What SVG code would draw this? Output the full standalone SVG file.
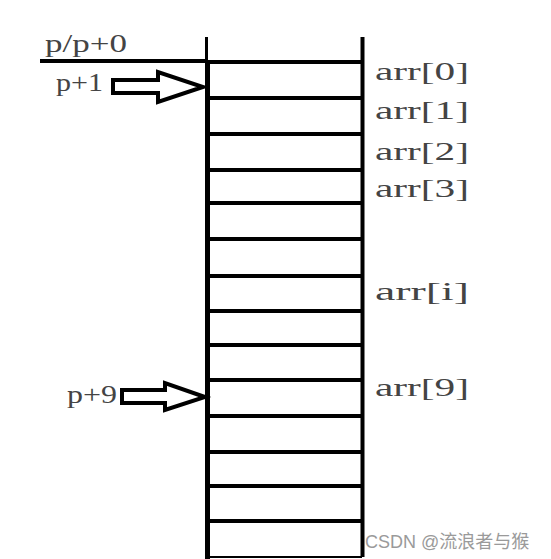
<svg xmlns="http://www.w3.org/2000/svg" width="551" height="559" viewBox="0 0 551 559">
<style>
.lbl{font-family:"Liberation Serif","DejaVu Serif",serif;font-size:25px;fill:#444}
.arr{fill:#fff;stroke:#000;stroke-width:4;stroke-linejoin:miter}
.h{stroke:#000;stroke-width:4}
.wm{font-family:"Liberation Sans","Noto Sans CJK SC",sans-serif;font-size:18px;fill:#9a9a9a}
</style>
<rect width="551" height="559" fill="#fff"/>
<g id="array">
<line x1="206.5" y1="37" x2="206.5" y2="62" stroke="#000" stroke-width="3"/>
<line x1="207.5" y1="62" x2="207.5" y2="559" stroke="#000" stroke-width="5"/>
<line x1="362.5" y1="37" x2="362.5" y2="557" stroke="#000" stroke-width="4"/>
<line class="h" x1="207" y1="62" x2="362" y2="62"/>
<line class="h" x1="207" y1="98" x2="362" y2="98"/>
<line class="h" x1="207" y1="134" x2="362" y2="134"/>
<line class="h" x1="207" y1="170" x2="362" y2="170"/>
<line class="h" x1="207" y1="203" x2="362" y2="203"/>
<line class="h" x1="207" y1="239" x2="362" y2="239"/>
<line class="h" x1="207" y1="276" x2="362" y2="276"/>
<line class="h" x1="207" y1="311" x2="362" y2="311"/>
<line class="h" x1="207" y1="345" x2="362" y2="345"/>
<line class="h" x1="207" y1="380" x2="362" y2="380"/>
<line class="h" x1="207" y1="416" x2="362" y2="416"/>
<line class="h" x1="207" y1="452" x2="362" y2="452"/>
<line class="h" x1="207" y1="486" x2="362" y2="486"/>
<line class="h" x1="207" y1="521" x2="362" y2="521"/>
<line x1="207" y1="557" x2="362" y2="557" stroke="#000" stroke-width="2"/>
</g>
<g id="labels">
<text class="lbl" x="375" y="80" textLength="94" lengthAdjust="spacingAndGlyphs">arr[0]</text>
<text class="lbl" x="375" y="119" textLength="94" lengthAdjust="spacingAndGlyphs">arr[1]</text>
<text class="lbl" x="375" y="160" textLength="94" lengthAdjust="spacingAndGlyphs">arr[2]</text>
<text class="lbl" x="375" y="197" textLength="94" lengthAdjust="spacingAndGlyphs">arr[3]</text>
<text class="lbl" x="375" y="300" textLength="94" lengthAdjust="spacingAndGlyphs">arr[i]</text>
<text class="lbl" x="375" y="396" textLength="94" lengthAdjust="spacingAndGlyphs">arr[9]</text>
</g>
<g id="p0">
<text class="lbl" x="45" y="52" textLength="82" lengthAdjust="spacingAndGlyphs">p/p+0</text>
<line x1="40" y1="61" x2="205" y2="61" stroke="#000" stroke-width="4"/>
</g>
<g id="connectors">
<polygon class="arr" points="113,80 158,80 158,72 203,87 158,102 158,93 113,93"/>
<polygon class="arr" points="122,390 165,390 165,383 205,397 165,410 165,403 122,403"/>
</g>
<g id="p1">
<text class="lbl" x="56" y="91" textLength="47" lengthAdjust="spacingAndGlyphs">p+1</text>
</g>
<g id="p9">
<text class="lbl" x="67" y="403" textLength="50" lengthAdjust="spacingAndGlyphs">p+9</text>
</g>
<text class="wm" x="365" y="548">CSDN @流浪者与猴</text>
</svg>
